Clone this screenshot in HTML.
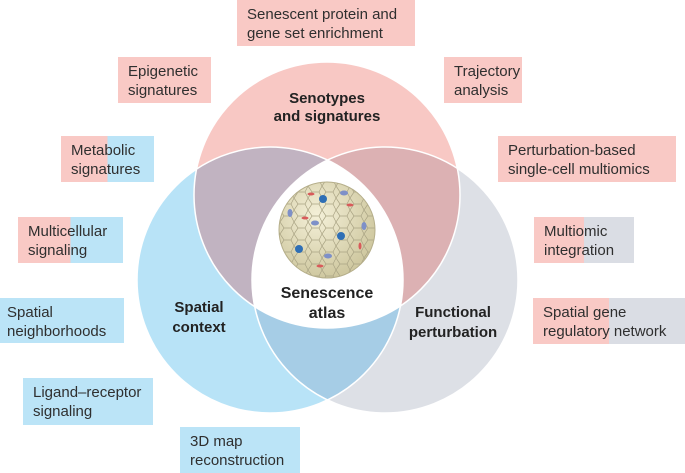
<!DOCTYPE html>
<html><head><meta charset="utf-8"><style>
body{margin:0;width:685px;height:473px;background:#fff;position:relative;overflow:hidden;font-family:"Liberation Sans",sans-serif;}
.b{position:absolute;box-sizing:border-box;padding:5px 0 0 10px;font-size:15px;line-height:19px;color:#2f2f2f;white-space:nowrap}
.p{background:#f9c9c5}.s{background:#bbe4f7}.g{background:#dadde4}
svg{position:absolute;left:0;top:0}
</style></head><body>
<svg width="685" height="473">
<defs>
<clipPath id="cT"><circle cx="327" cy="195" r="133"/></clipPath>
<clipPath id="cL"><circle cx="270" cy="280" r="133"/></clipPath>
<clipPath id="cR"><circle cx="385" cy="280" r="133"/></clipPath>
<radialGradient id="sg" cx="40%" cy="35%" r="65%"><stop offset="0" stop-color="#f4f0d8"/><stop offset="1" stop-color="#cfc8a0"/></radialGradient>
<pattern id="cells" width="14" height="12" patternUnits="userSpaceOnUse"><path d="M0 6 L4 0 L11 0 L14 6 L11 12 L4 12 Z" fill="none" stroke="#a9a383" stroke-width="0.7"/></pattern>
</defs>
<circle cx="327" cy="195" r="133" fill="#f8c8c4"/>
<circle cx="270" cy="280" r="133" fill="#b8e3f7"/>
<circle cx="385" cy="280" r="133" fill="#dde0e6"/>
<g clip-path="url(#cT)"><circle cx="270" cy="280" r="133" fill="#c1b3c1"/><circle cx="385" cy="280" r="133" fill="#dcb1b3"/></g>
<g clip-path="url(#cL)"><circle cx="385" cy="280" r="133" fill="#a6cde6"/></g>
<g clip-path="url(#cT)"><g clip-path="url(#cL)"><circle cx="385" cy="280" r="133" fill="#fff"/></g></g>
<g fill="none" stroke="#fff" stroke-width="1.5">
<circle cx="327" cy="195" r="133"/><circle cx="270" cy="280" r="133"/><circle cx="385" cy="280" r="133"/></g>
<circle cx="327" cy="230" r="48" fill="url(#sg)"/>
<circle cx="327" cy="230" r="48" fill="url(#cells)"/>
<circle cx="327" cy="230" r="48" fill="none" stroke="#b5ae8a" stroke-width="1"/>
<g fill="#2f6fb5"><circle cx="323" cy="199" r="4"/><circle cx="341" cy="236" r="4"/><circle cx="299" cy="249" r="4"/></g>
<g fill="#7e90c8"><ellipse cx="344" cy="193" rx="4" ry="2.5"/><ellipse cx="290" cy="213" rx="2.5" ry="4"/><ellipse cx="315" cy="223" rx="4" ry="2.5"/><ellipse cx="364" cy="226" rx="2.5" ry="4"/><ellipse cx="328" cy="256" rx="4" ry="2.5"/></g>
<g fill="#d85a5a"><ellipse cx="311" cy="194" rx="3.5" ry="1.5"/><ellipse cx="350" cy="205" rx="3.5" ry="1.5"/><ellipse cx="305" cy="218" rx="3.5" ry="1.5"/><ellipse cx="360" cy="246" rx="1.5" ry="3.5"/><ellipse cx="320" cy="266" rx="3.5" ry="1.5"/></g>
<g font-family="Liberation Sans,sans-serif" font-weight="bold" font-size="15" fill="#222" text-anchor="middle">
<text x="327" y="103">Senotypes</text><text x="327" y="121">and signatures</text>
<text x="199" y="312">Spatial</text><text x="199" y="332">context</text>
<text x="453" y="317">Functional</text><text x="453" y="337">perturbation</text>
<text x="327" y="298" font-size="16">Senescence</text><text x="327" y="318" font-size="16">atlas</text>
</g>
</svg>
<div class="b p" style="left:237px;top:0;width:178px;height:46px">Senescent protein and<br>gene set enrichment</div>
<div class="b p" style="left:118px;top:57px;width:93px;height:46px">Epigenetic<br>signatures</div>
<div class="b p" style="left:444px;top:57px;width:78px;height:46px">Trajectory<br>analysis</div>
<div class="b" style="left:61px;top:136px;width:93px;height:46px;background:linear-gradient(90deg,#f9c9c5 50%,#bbe4f7 50%)">Metabolic<br>signatures</div>
<div class="b p" style="left:498px;top:136px;width:178px;height:46px">Perturbation-based<br>single-cell multiomics</div>
<div class="b" style="left:18px;top:217px;width:105px;height:46px;background:linear-gradient(90deg,#f9c9c5 50%,#bbe4f7 50%)">Multicellular<br>signaling</div>
<div class="b" style="left:534px;top:217px;width:100px;height:46px;background:linear-gradient(90deg,#f9c9c5 50%,#dadde4 50%)">Multiomic<br>integration</div>
<div class="b s" style="left:0;top:298px;width:124px;height:45px;padding-left:7px">Spatial<br>neighborhoods</div>
<div class="b" style="left:533px;top:298px;width:152px;height:46px;background:linear-gradient(90deg,#f9c9c5 50%,#dadde4 50%)">Spatial gene<br>regulatory network</div>
<div class="b s" style="left:23px;top:378px;width:130px;height:47px">Ligand–receptor<br>signaling</div>
<div class="b s" style="left:180px;top:427px;width:120px;height:46px">3D map<br>reconstruction</div>
</body></html>
